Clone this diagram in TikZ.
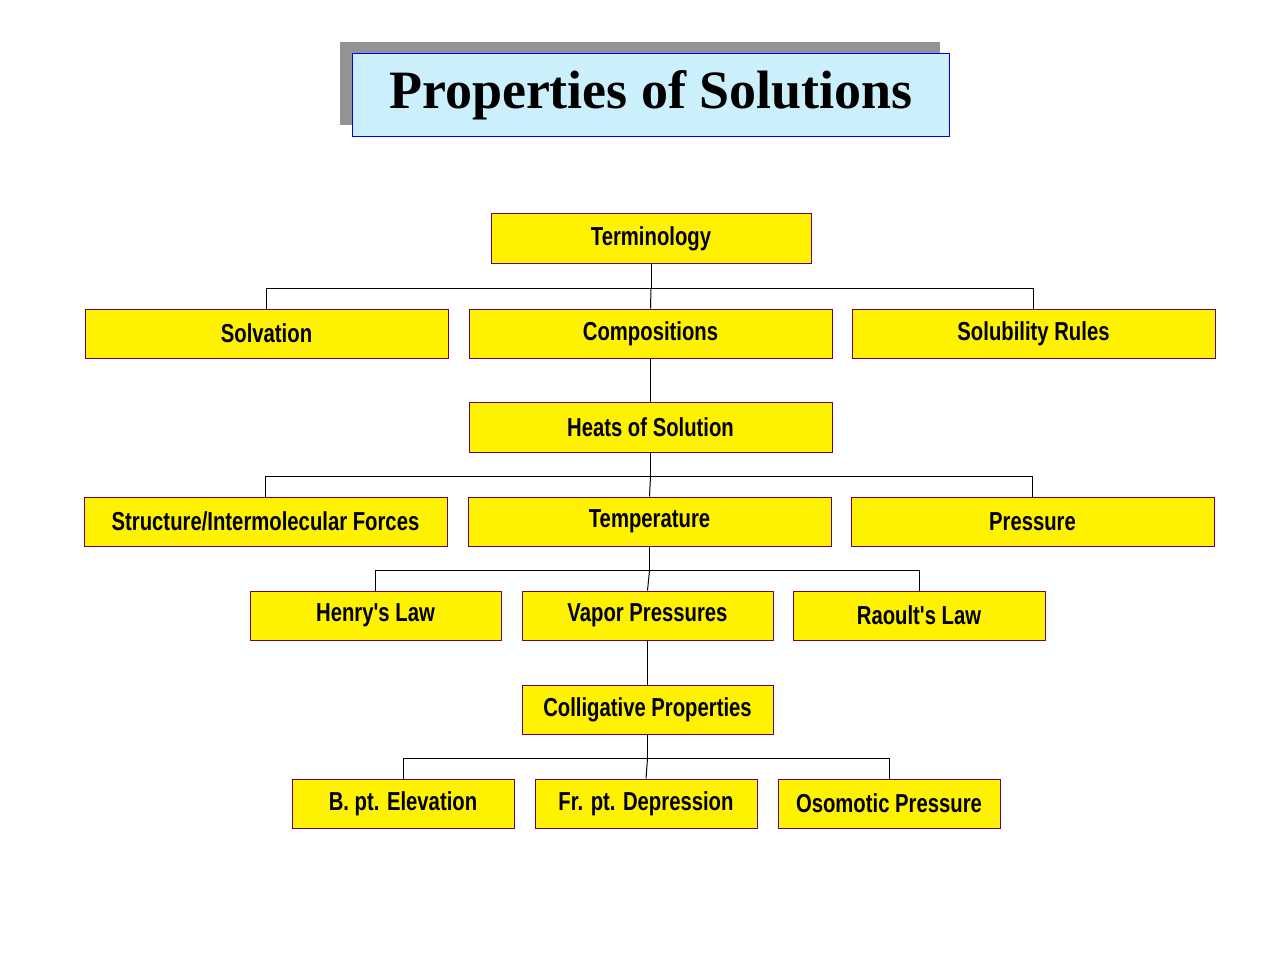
\documentclass[tikz,border=0pt]{standalone}
\usepackage{fontspec}
\newfontfamily\boxfont[FakeStretch=0.78]{Liberation Sans}
\newfontfamily\titlefont{Liberation Serif}
\begin{document}
\begin{tikzpicture}[x=1pt,y=-1pt,
  bx/.style={draw=violet!80!black,fill=yellow,line width=1pt,inner sep=0pt,font=\boxfont\bfseries\fontsize{26}{28}\selectfont},
  ln/.style={draw=black,line width=1pt}]
\useasboundingbox (0,0) rectangle (1280,960);
\fill[gray!85] (340,42) rectangle (940,125);
\node[draw=blue,fill=cyan!20,line width=1pt,minimum width=597pt,minimum height=83pt,anchor=north west,font=\titlefont\bfseries\fontsize{54}{60}\selectfont] (title) at (352,53) {Properties of Solutions};
\newcommand\bxat[6]{\node[bx,minimum width=#4pt,minimum height=#5pt] (#1) at (#2,#3) {#6};}
\bxat{T}{651}{239}{320}{50}{Terminology}
\bxat{S}{266.5}{333.5}{363}{49}{Solvation}
\bxat{C}{650.5}{333.5}{363}{49}{Compositions}
\bxat{R}{1033.5}{333.5}{363}{49}{Solubility Rules}
\bxat{H}{650.5}{427}{363}{50}{Heats of Solution}
\bxat{SI}{265.5}{521.5}{363}{49}{Structure/Intermolecular Forces}
\bxat{Te}{649.5}{521.5}{363}{49}{Temperature}
\bxat{P}{1032.5}{521.5}{363}{49}{Pressure}
\bxat{HL}{375.5}{615.5}{251}{49}{Henry's Law}
\bxat{V}{647.5}{615.5}{251}{49}{Vapor Pressures}
\bxat{RL}{919}{615.5}{252}{49}{Raoult's Law}
\bxat{CP}{647.5}{709.5}{251}{49}{Colligative Properties}
\bxat{B}{403}{803.5}{222}{49}{B. pt. Elevation}
\bxat{F}{646}{803.5}{222}{49}{Fr. pt. Depression}
\bxat{O}{889}{803.5}{222}{49}{Osomotic Pressure}
\draw[ln] (T.south) -- ++(0,24) coordinate (b1);
\draw[ln] (S.north) |- (b1) -| (R.north);
\draw[ln] (b1) -- (C.north);
\draw[ln] (C.south) -- (H.north);
\draw[ln] (H.south) -- ++(0,24) coordinate (b2);
\draw[ln] (SI.north) |- (b2) -| (P.north);
\draw[ln] (b2) -- (Te.north);
\draw[ln] (Te.south) -- ++(0,24) coordinate (b3);
\draw[ln] (HL.north) |- (b3) -| (RL.north);
\draw[ln] (b3) -- (V.north);
\draw[ln] (V.south) -- (CP.north);
\draw[ln] (CP.south) -- ++(0,24) coordinate (b4);
\draw[ln] (B.north) |- (b4) -| (O.north);
\draw[ln] (b4) -- (F.north);
\end{tikzpicture}
\end{document}
